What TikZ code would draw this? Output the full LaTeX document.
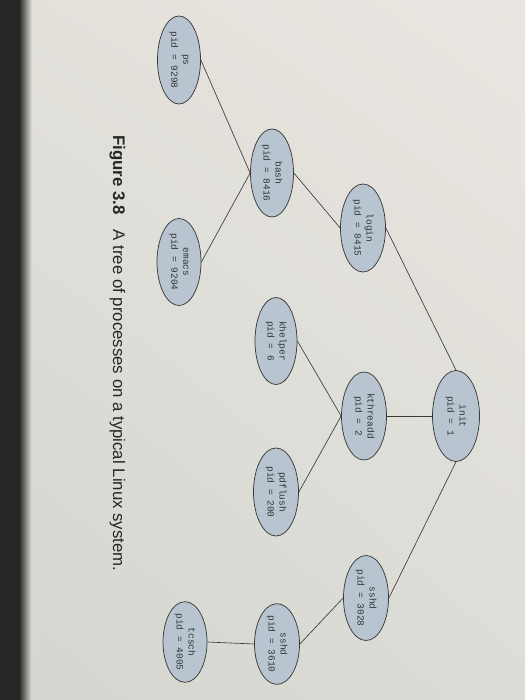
\documentclass[tikz,border=0pt]{standalone}
\usepackage{fontspec}
\setmainfont{Liberation Sans}
\newfontfamily\procfont{Liberation Mono}
\usetikzlibrary{shapes.geometric,shadings}
\definecolor{paperA}{HTML}{E3E0DA}
\definecolor{paperB}{HTML}{EAE5E0}
\definecolor{paperC}{HTML}{D3D6D0}
\definecolor{paperD}{HTML}{DDDCD6}
\definecolor{procfill}{HTML}{B8C5D1}
\definecolor{procline}{HTML}{3A3A3A}
\definecolor{binding}{HTML}{262626}
\begin{document}
\begin{tikzpicture}[x=1pt,y=1pt,
  proc/.style={ellipse, draw=procline, line width=0.75pt, fill=procfill,
    rotate=-90, minimum width=88pt, minimum height=45pt, inner sep=0pt,
    align=center, font=\procfont\fontsize{9.5}{12}\selectfont, text=black!80},
  link/.style={draw=procline, line width=0.65pt}]
\useasboundingbox (0,0) rectangle (525,-700);
% paper
\shade[upper left=paperA, upper right=paperB, lower left=paperC, lower right=paperD]
  (0,0) rectangle (525,-700);
% book binding shadow
\fill[binding] (0,0) rectangle (19,-700);
\shade[left color=binding, right color=paperA] (19,0) rectangle (32,-700);
% processes
\node[proc, minimum height=47pt, minimum width=91pt] (init) at (456,-416) {init\\pid = 1};
\node[proc] (kthreadd) at (364,-416) {kthreadd\\pid = 2};
\node[proc] (login) at (363,-228) {login\\pid = 8415};
\node[proc, minimum width=85pt] (sshdA) at (366,-598) {sshd\\pid = 3028};
\node[proc, minimum height=43pt] (bash) at (272,-173) {bash\\pid = 8416};
\node[proc, minimum height=42pt, minimum width=87pt] (khelper) at (276,-341) {khelper\\pid = 6};
\node[proc] (pdflush) at (276,-492) {pdflush\\pid = 200};
\node[proc, minimum width=80pt] (sshdB) at (277,-644) {sshd\\pid = 3610};
\node[proc, minimum height=43pt] (ps) at (179,-60) {ps\\pid = 9298};
\node[proc, minimum height=44pt, minimum width=87pt] (emacs) at (179,-262) {emacs\\pid = 9204};
\node[proc, minimum height=44pt, minimum width=80pt] (tcsch) at (185,-642) {tcsch\\pid = 4005};
% connectors
\draw[link] (init.west) -- (login.north);
\draw[link] (init.south) -- (kthreadd.north);
\draw[link] (init.east) -- (sshdA.north);
\draw[link] (kthreadd.south) -- (khelper.north);
\draw[link] (kthreadd.south) -- (pdflush.north);
\draw[link] (login.south) -- (bash.north);
\draw[link] (bash.south) -- (ps.north);
\draw[link] (bash.south) -- (emacs.north);
\draw[link] (sshdA.south) -- (sshdB.north);
\draw[link] (sshdB.south) -- (tcsch.north);
% caption
\node[rotate=-90, anchor=base west, inner sep=0pt,
  font=\fontsize{16.8}{20}\selectfont, text=black!85] (caption) at (113,-135)
  {\textbf{Figure 3.8}\hspace{0.9em}A tree of processes on a typical Linux system.};
\end{tikzpicture}
\end{document}
